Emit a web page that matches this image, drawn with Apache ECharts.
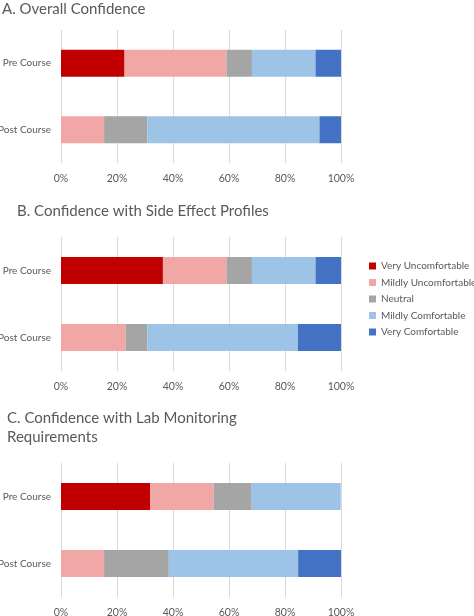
<!DOCTYPE html>
<html>
<head>
<meta charset="utf-8">
<script src="https://cdn.jsdelivr.net/npm/echarts@6/dist/echarts.min.js"></script>
<style>
  html, body { margin: 0; padding: 0; background: #fff; }
  #chart { width: 474px; height: 616px; }
</style>
</head>
<body>
<div id="chart"></div>
<script>
var chartDom = document.getElementById('chart');
var myChart = echarts.init(chartDom);

// categories and levels
var categories = ['Pre Course', 'Post Course'];
var levels = ['Very Uncomfortable', 'Mildly Uncomfortable', 'Neutral', 'Mildly Comfortable', 'Very Comfortable'];
var colors = ['#c00000', '#f2a7a7', '#a5a5a5', '#9dc3e6', '#4472c4'];
var tickLabels = ['0%', '20%', '40%', '60%', '80%', '100%'];

// percent of respondents per level (pre, post)
var overallPre = [22.7, 36.4, 9.1, 22.7, 9.1];
var overallPost = [0, 15.4, 15.4, 61.5, 7.7];
var sidePre = [36.4, 22.7, 9.1, 22.7, 9.1];
var sidePost = [0, 23.1, 7.7, 53.8, 15.4];
var labPre = [31.8, 22.7, 13.6, 31.8, 0];
var labPost = [0, 15.4, 23.1, 46.2, 15.4];

var panels = [
  { pre: overallPre, post: overallPost },
  { pre: sidePre, post: sidePost },
  { pre: labPre, post: labPost }
];

var font = 'Lato';
var txt = '#595959';

var grids = [
  { left: 61, width: 280, top: 30, height: 133, outerBoundsMode: 'none', containLabel: false },
  { left: 61, width: 280, top: 237, height: 134, outerBoundsMode: 'none', containLabel: false },
  { left: 61, width: 280, top: 463, height: 134, outerBoundsMode: 'none', containLabel: false }
];

var xAxes = [], yAxes = [], series = [];
grids.forEach(function (g, i) {
  xAxes.push({
    type: 'value', gridIndex: i, min: 0, max: 100, interval: 20,
    axisLine: { show: false }, axisTick: { show: false },
    splitLine: { lineStyle: { color: '#d9d9d9', width: 1 } },
    axisLabel: {
      color: txt, fontFamily: font, fontSize: 10.5, margin: 10,
      formatter: function (v) { return tickLabels[Math.round(v / 20)]; }
    }
  });
  yAxes.push({
    type: 'category', gridIndex: i, data: categories, inverse: true,
    axisLine: { show: false }, axisTick: { show: false },
    axisLabel: { color: txt, fontFamily: font, fontSize: 10, margin: 10 }
  });
  levels.forEach(function (name, k) {
    series.push({
      name: name, type: 'bar', stack: 'p' + i,
      xAxisIndex: i, yAxisIndex: i,
      barWidth: 27,
      itemStyle: { color: colors[k] },
      data: [panels[i].pre[k], panels[i].post[k]]
    });
  });
});

var titleStyle = { color: txt, fontFamily: font, fontSize: 15, fontWeight: 'normal', lineHeight: 19 };

var option = {
  animation: false,
  title: [
    { text: 'A. Overall Confidence', left: 2, top: 0, padding: 0, textStyle: titleStyle },
    { text: 'B. Confidence with Side Effect Profiles', left: 17, top: 202, padding: 0, textStyle: titleStyle },
    { text: 'C. Confidence with Lab Monitoring\nRequirements', left: 7, top: 409, padding: 0, textStyle: titleStyle }
  ],
  legend: {
    data: levels,
    orient: 'vertical',
    left: 369, top: 260, padding: 0,
    icon: 'rect',
    itemWidth: 7, itemHeight: 7, itemGap: 4.5,
    textStyle: { color: txt, fontFamily: font, fontSize: 10, lineHeight: 12 }
  },
  grid: grids,
  xAxis: xAxes,
  yAxis: yAxes,
  series: series
};

myChart.setOption(option);
</script>
</body>
</html>
